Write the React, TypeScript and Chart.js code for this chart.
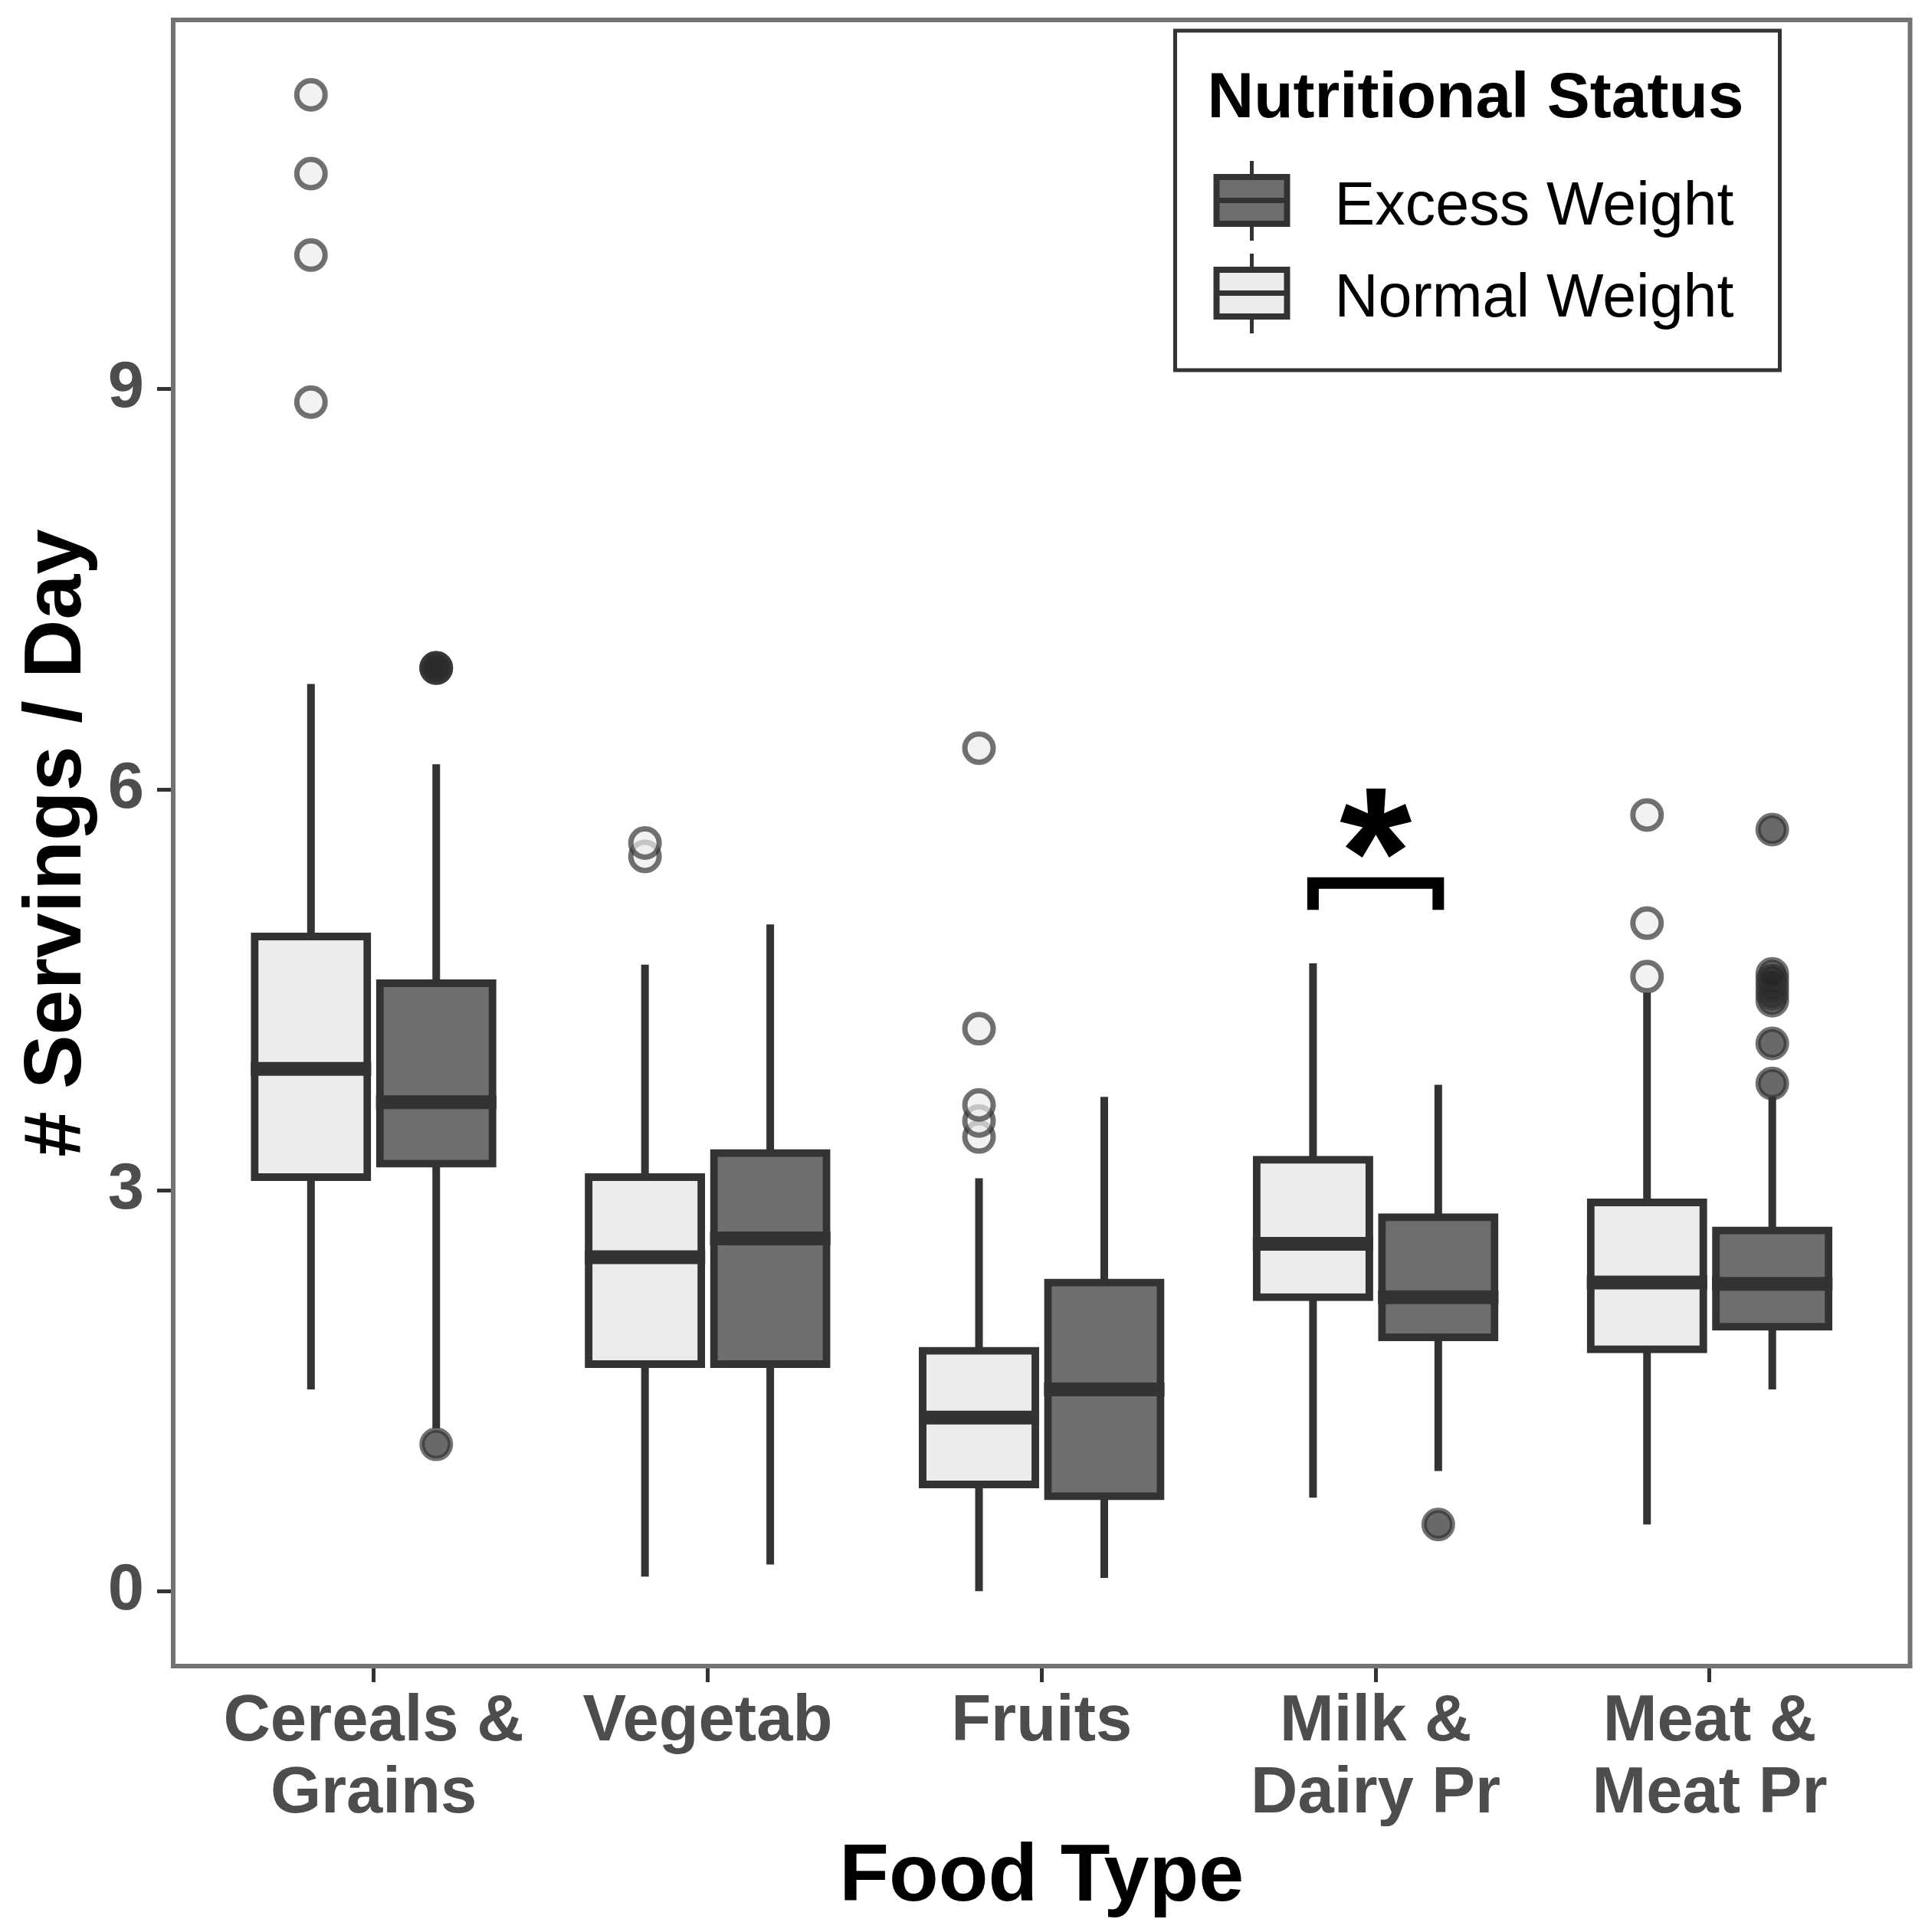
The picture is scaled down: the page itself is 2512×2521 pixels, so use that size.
import React, { useEffect, useRef } from "react";
import { Chart, registerables } from "chart.js";

Chart.register(...registerables);

// ---------------- data ----------------
const categories = ["Cereals & Grains", "Vegetab", "Fruits", "Milk & Dairy Pr", "Meat & Meat Pr"];
const xTickLines = [["Cereals &", "Grains"], ["Vegetab"], ["Fruits"], ["Milk &", "Dairy Pr"], ["Meat &", "Meat Pr"]];
const yTickValues = [0, 3, 6, 9];
const yRange = [-0.56, 11.76];
const xRange = [0.4, 5.6];

const groupNames = ["Normal Weight", "Excess Weight"];
const legendOrder = [1, 0]; // Excess first, then Normal

// Normal Weight
const normalQ1 = [3.10, 1.70, 0.80, 2.20, 1.81];
const normalMedian = [3.91, 2.50, 1.30, 2.60, 2.31];
const normalQ3 = [4.90, 3.10, 1.80, 3.23, 2.91];
const normalLow = [1.51, 0.11, 0.00, 0.70, 0.50];
const normalHigh = [6.79, 4.69, 3.09, 4.70, 4.48];
const normalOutliers = [
  [8.90, 10.00, 10.61, 11.20],
  [5.50, 5.60],
  [3.40, 3.52, 3.64, 4.21, 6.31],
  [],
  [4.60, 5.00, 5.81],
];

// Excess Weight
const excessQ1 = [3.20, 1.70, 0.71, 1.90, 1.98];
const excessMedian = [3.66, 2.64, 1.51, 2.20, 2.30];
const excessQ3 = [4.55, 3.28, 2.31, 2.80, 2.70];
const excessLow = [1.22, 0.20, 0.10, 0.90, 1.51];
const excessHigh = [6.19, 4.99, 3.70, 3.79, 3.70];
const excessOutliers = [
  [1.10, 6.91, 6.91, 6.91],
  [],
  [],
  [0.50],
  [3.80, 4.10, 4.42, 4.47, 4.52, 4.57, 4.62, 5.70],
];

// significance bracket (Milk & Dairy Pr)
const sigCategory = 4;
const sigBracketLow = 5.10;
const sigBracketHigh = 5.30;
const sigStarValue = 5.75;
const sigLabel = "*";

// ---------------- styles ----------------
const FONT = "'Liberation Sans', Arial, Helvetica, sans-serif";
const LINE = "#333333";
const fills = ["#ececec", "#6e6e6e"];
const outlierFills = ["#ececec", "#262626"];

const stats = [
  { q1: normalQ1, med: normalMedian, q3: normalQ3, low: normalLow, high: normalHigh, out: normalOutliers },
  { q1: excessQ1, med: excessMedian, q3: excessQ3, low: excessLow, high: excessHigh, out: excessOutliers },
];

const boxPartsPlugin = {
  id: "boxParts",
  beforeDatasetsDraw(chart: any) {
    const ctx = chart.ctx;
    const ys = chart.scales.y;
    stats.forEach((st, di) => {
      const meta = chart.getDatasetMeta(di);
      meta.data.forEach((bar: any, i: number) => {
        const x = bar.x;
        // outliers
        ctx.save();
        ctx.globalAlpha = 0.69;
        st.out[i].forEach((v: number) => {
          ctx.beginPath();
          ctx.arc(x, ys.getPixelForValue(v), 18.5, 0, Math.PI * 2);
          ctx.fillStyle = outlierFills[di];
          ctx.fill();
          ctx.lineWidth = 7;
          ctx.strokeStyle = LINE;
          ctx.stroke();
        });
        ctx.restore();
        // whiskers
        ctx.save();
        ctx.strokeStyle = LINE;
        ctx.lineWidth = 10;
        ctx.lineCap = "butt";
        ctx.beginPath();
        ctx.moveTo(x, ys.getPixelForValue(st.q3[i]));
        ctx.lineTo(x, ys.getPixelForValue(st.high[i]));
        ctx.moveTo(x, ys.getPixelForValue(st.q1[i]));
        ctx.lineTo(x, ys.getPixelForValue(st.low[i]));
        ctx.stroke();
        ctx.restore();
      });
    });
  },
  afterDatasetsDraw(chart: any) {
    const ctx = chart.ctx;
    const ys = chart.scales.y;
    stats.forEach((st, di) => {
      const meta = chart.getDatasetMeta(di);
      meta.data.forEach((bar: any, i: number) => {
        const x = bar.x;
        const w = bar.width;
        const py = ys.getPixelForValue(st.med[i]);
        ctx.save();
        ctx.strokeStyle = LINE;
        ctx.lineWidth = 18;
        ctx.lineCap = "butt";
        ctx.beginPath();
        ctx.moveTo(x - w / 2 - 5, py);
        ctx.lineTo(x + w / 2 + 5, py);
        ctx.stroke();
        ctx.restore();
      });
    });
  },
  afterDraw(chart: any) {
    const ctx = chart.ctx;
    const ca = chart.chartArea;
    const ys = chart.scales.y;
    const xs = chart.scales.x;

    // panel border
    ctx.save();
    ctx.strokeStyle = "#737373";
    ctx.lineWidth = 6;
    ctx.strokeRect(ca.left, ca.top, ca.right - ca.left, ca.bottom - ca.top);
    ctx.restore();

    // significance bracket
    const bi = sigCategory - 1;
    const xa = chart.getDatasetMeta(0).data[bi].x;
    const xb = chart.getDatasetMeta(1).data[bi].x;
    const yh = ys.getPixelForValue(sigBracketHigh);
    const yl = ys.getPixelForValue(sigBracketLow);
    ctx.save();
    ctx.strokeStyle = "#000";
    ctx.lineWidth = 15;
    ctx.lineJoin = "miter";
    ctx.lineCap = "butt";
    ctx.beginPath();
    ctx.moveTo(xa, yl);
    ctx.lineTo(xa, yh);
    ctx.lineTo(xb, yh);
    ctx.lineTo(xb, yl);
    ctx.stroke();
    // star
    ctx.font = `bold 100px ${FONT}`;
    const m = ctx.measureText(sigLabel);
    const h100 = m.actualBoundingBoxAscent + m.actualBoundingBoxDescent;
    const size = (100 * 92) / h100;
    ctx.font = `bold ${size}px ${FONT}`;
    const m2 = ctx.measureText(sigLabel);
    const cy = ys.getPixelForValue(sigStarValue);
    ctx.fillStyle = "#000";
    ctx.textAlign = "center";
    ctx.textBaseline = "alphabetic";
    ctx.fillText(sigLabel, xs.getPixelForValue(sigCategory), cy + (m2.actualBoundingBoxAscent - m2.actualBoundingBoxDescent) / 2);
    ctx.restore();

    // legend
    const lw = 789;
    const lh = 443;
    const lx = ca.right - 959;
    const ly = ca.top + 14;
    ctx.save();
    ctx.fillStyle = "#ffffff";
    ctx.fillRect(lx, ly, lw, lh);
    ctx.strokeStyle = "#333333";
    ctx.lineWidth = 5;
    ctx.strokeRect(lx, ly, lw, lh);
    ctx.fillStyle = "#000";
    ctx.textAlign = "left";
    ctx.textBaseline = "alphabetic";
    ctx.font = `bold 84px ${FONT}`;
    ctx.fillText("Nutritional Status", lx + 42, ly + 113);
    legendOrder.forEach((gi, k) => {
      const bx = lx + 50;
      const bw = 100;
      const bt = ly + 187 + k * 121;
      const bh = 69;
      const cx = bx + bw / 2;
      ctx.strokeStyle = LINE;
      ctx.lineWidth = 5;
      ctx.beginPath();
      ctx.moveTo(cx, bt - 17);
      ctx.lineTo(cx, bt + bh + 18);
      ctx.stroke();
      ctx.fillStyle = fills[gi];
      ctx.fillRect(bx + 4, bt + 4, bw - 8, bh - 8);
      ctx.lineWidth = 8;
      ctx.strokeRect(bx + 4, bt + 4, bw - 8, bh - 8);
      ctx.lineWidth = 7;
      ctx.beginPath();
      ctx.moveTo(bx + 4, bt + bh / 2);
      ctx.lineTo(bx + bw - 4, bt + bh / 2);
      ctx.stroke();
      ctx.fillStyle = "#000";
      ctx.font = `79px ${FONT}`;
      ctx.fillText(groupNames[gi], lx + 208, ly + 253 + k * 120);
    });
    ctx.restore();
  },
};

export default function App() {
  const canvasRef = useRef<HTMLCanvasElement | null>(null);

  useEffect(() => {
    const canvas = canvasRef.current;
    if (!canvas) return;
    const datasets = stats.map((st, di) => ({
      label: groupNames[di],
      data: categories.map((_, i) => ({ x: i + 1, y: [st.q1[i], st.q3[i]] })),
      backgroundColor: fills[di],
      borderColor: LINE,
      borderWidth: 10,
      borderSkipped: false,
      inflateAmount: 5,
      categoryPercentage: 0.75,
      barPercentage: 0.9,
    }));

    const chart = new Chart(canvas, {
      type: "bar",
      data: { datasets } as any,
      plugins: [boxPartsPlugin],
      options: {
        animation: false,
        responsive: false,
        devicePixelRatio: 1,
        events: [],
        layout: { padding: { left: 0, right: 19.5, top: 26, bottom: 0 } },
        plugins: { legend: { display: false }, tooltip: { enabled: false } },
        scales: {
          x: {
            type: "linear",
            min: xRange[0],
            max: xRange[1],
            offset: false,
            grid: { offset: false, drawOnChartArea: false, drawTicks: true, tickLength: 21, color: LINE, lineWidth: 5 },
            border: { display: false },
            afterBuildTicks: (axis: any) => {
              axis.ticks = categories.map((_, i) => ({ value: i + 1 }));
            },
            afterFit: (scale: any) => {
              scale.height = 347;
              scale.paddingLeft = 0;
              scale.paddingRight = 0;
            },
            ticks: {
              autoSkip: false,
              maxRotation: 0,
              minRotation: 0,
              padding: 6,
              color: "#4d4d4d",
              font: { family: FONT, size: 85, weight: "bold", lineHeight: 94 / 85 },
              callback: (value: any) => xTickLines[Math.round(value) - 1],
            },
            title: {
              display: true,
              text: "Food Type",
              color: "#000",
              font: { family: FONT, size: 106, weight: "bold", lineHeight: 1.2 },
              padding: { top: 0, bottom: 7 },
            },
          },
          y: {
            type: "linear",
            min: yRange[0],
            max: yRange[1],
            grid: { drawOnChartArea: false, drawTicks: true, tickLength: 21, color: LINE, lineWidth: 5 },
            border: { display: false },
            afterBuildTicks: (axis: any) => {
              axis.ticks = yTickValues.map((v) => ({ value: v }));
            },
            afterFit: (scale: any) => {
              scale.width = 226;
              scale.paddingTop = 0;
              scale.paddingBottom = 0;
            },
            ticks: {
              padding: 17,
              color: "#4d4d4d",
              font: { family: FONT, size: 85, weight: "bold" },
              callback: (value: any) => String(value),
            },
            title: {
              display: true,
              text: "# Servings / Day",
              color: "#000",
              font: { family: FONT, size: 106, weight: "bold", lineHeight: 1.2 },
              padding: { top: 12, bottom: 0 },
            },
          },
        },
      } as any,
    });
    return () => chart.destroy();
  }, []);

  return (
    <div style={{ position: "fixed", left: 0, top: 0, width: 2512, height: 2521, background: "#ffffff" }}>
      <canvas ref={canvasRef} width={2512} height={2521} style={{ display: "block", width: 2512, height: 2521 }} />
    </div>
  );
}
